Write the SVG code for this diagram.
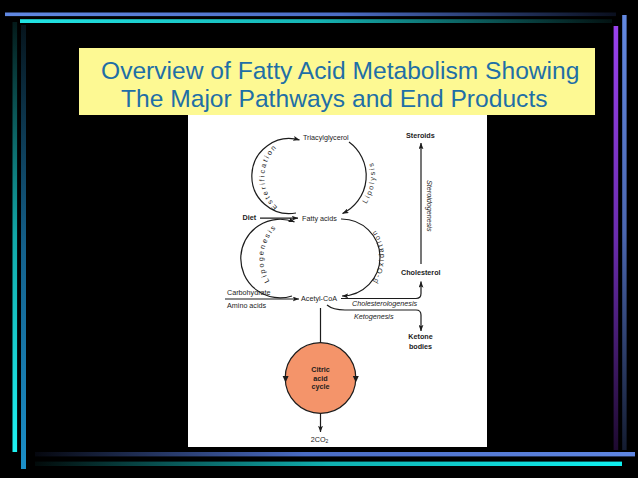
<svg xmlns="http://www.w3.org/2000/svg" width="638" height="478" viewBox="0 0 638 478">
<defs>
<linearGradient id="gTopBlue" x1="0" y1="0" x2="1" y2="0"><stop offset="0" stop-color="#6088e2"/><stop offset="0.55" stop-color="#4b6dc6"/><stop offset="1" stop-color="#0a0f1e"/></linearGradient>
<linearGradient id="gTopCyan" x1="0" y1="0" x2="1" y2="0"><stop offset="0" stop-color="#22e4e4"/><stop offset="0.5" stop-color="#16b4b4"/><stop offset="1" stop-color="#031212"/></linearGradient>
<linearGradient id="gLeftCyan" x1="0" y1="1" x2="0" y2="0"><stop offset="0" stop-color="#1ff2f2"/><stop offset="0.5" stop-color="#12a8a8"/><stop offset="1" stop-color="#041a1a"/></linearGradient>
<linearGradient id="gLeftBlue" x1="0" y1="1" x2="0" y2="0"><stop offset="0" stop-color="#1b8fc8"/><stop offset="0.5" stop-color="#14608a"/><stop offset="1" stop-color="#06141c"/></linearGradient>
<linearGradient id="gBotBlue" x1="1" y1="0" x2="0" y2="0"><stop offset="0" stop-color="#5f86e2"/><stop offset="0.55" stop-color="#4a6cc4"/><stop offset="1" stop-color="#05070e"/></linearGradient>
<linearGradient id="gBotCyan" x1="1" y1="0" x2="0" y2="0"><stop offset="0" stop-color="#10f0f0"/><stop offset="0.5" stop-color="#10b0b0"/><stop offset="1" stop-color="#020a0a"/></linearGradient>
<linearGradient id="gRightBlue" x1="0" y1="0" x2="0" y2="1"><stop offset="0" stop-color="#6389e2"/><stop offset="0.5" stop-color="#4a66b0"/><stop offset="1" stop-color="#141c30"/></linearGradient>
<linearGradient id="gRightPurple" x1="0" y1="0" x2="0" y2="1"><stop offset="0" stop-color="#9a42ee"/><stop offset="0.5" stop-color="#6a2cae"/><stop offset="1" stop-color="#1e0a30"/></linearGradient>
<marker id="ah" viewBox="0 0 8 6" refX="7.6" refY="3" markerWidth="6.5" markerHeight="5" markerUnits="userSpaceOnUse" orient="auto"><path d="M0,0 L8,3 L0,6 L1.6,3 Z" fill="#1c1c1c"/></marker>
<path id="tpEster" d="M 279.3 208.8 A 41.5 41.5 0 0 1 279.3 145.2"/>
<path id="tpLipol" d="M 363 208.2 A 50.5 50.5 0 0 0 370.8 156"/>
<path id="tpLipog" d="M 273.6 287.3 A 44 44 0 0 1 282.7 222.5"/>
<path id="tpBox" d="M 369.6 292.1 A 49 49 0 0 0 367.1 220.5"/>
</defs>
<style>
.lbl{font-family:"Liberation Sans",Arial,sans-serif;font-size:7.2px;fill:#1c1c1c}
.b{font-weight:bold}
.it{font-style:italic}
.con{fill:none;stroke:#1c1c1c;stroke-width:1.2}
.arr{marker-end:url(#ah)}
.title{font-family:"Liberation Sans",Arial,sans-serif;font-size:24.6px;fill:#1f6fa6}
.curv{font-family:"Liberation Sans",Arial,sans-serif;font-size:7.2px;fill:#1c1c1c;letter-spacing:1.9px}
</style>
<rect x="0" y="0" width="638" height="478" fill="#000"/>
<g id="frame">
<rect x="5" y="12.5" width="611" height="3.6" fill="url(#gTopBlue)"/>
<rect x="20" y="19.2" width="592" height="3.8" fill="url(#gTopCyan)"/>
<rect x="12.5" y="22" width="4.6" height="430" fill="url(#gLeftCyan)"/>
<rect x="21" y="25" width="5" height="444" fill="url(#gLeftBlue)"/>
<rect x="35" y="452" width="600" height="4.4" fill="url(#gBotBlue)"/>
<rect x="35" y="461.6" width="587" height="4.4" fill="url(#gBotCyan)"/>
<rect x="622.2" y="15" width="4.4" height="435" fill="url(#gRightBlue)"/>
<rect x="613.6" y="26" width="4.6" height="424" fill="url(#gRightPurple)"/>
</g>
<g id="title">
<rect x="79" y="48" width="516" height="67" fill="#fdf993"/>
<text class="title" x="101" y="78.5">Overview of Fatty Acid Metabolism Showing</text>
<text class="title" x="121" y="107">The Major Pathways and End Products</text>
</g>
<rect id="panel" x="188" y="115" width="299" height="332" fill="#fff"/>
<g id="connectors">
<path class="con arr" d="M 296 213 A 37.5 37.5 0 1 1 299.5 140"/>
<path class="con arr" d="M 349 142 A 41.8 41.8 0 0 1 342.5 213.5"/>
<path class="con arr" d="M 292 296 A 39.3 39.3 0 1 1 294.5 222"/>
<path class="con arr" d="M 341 219 A 38.5 38.5 0 0 1 342 296"/>
<path class="con arr" d="M 260 218.2 H 298"/>
<path class="con arr" d="M 225 299 H 299"/>
<path class="con arr" d="M 341 298.5 H 416 Q 421 298.5 421 293.5 V 281.5"/>
<path class="con arr" d="M 327 305 Q 333 310 345 310 H 416 Q 421 310 421 315 V 331"/>
<path class="con arr" d="M 421 264 V 143"/>
<path class="con" d="M 320.5 308 V 343"/>
<path class="con arr" d="M 320.5 413.5 V 432"/>
<text class="curv"><textPath href="#tpEster" startOffset="50%" text-anchor="middle">Esterification</textPath></text>
<text class="curv"><textPath href="#tpLipol" startOffset="50%" text-anchor="middle">Lipolysis</textPath></text>
<text class="curv"><textPath href="#tpLipog" startOffset="50%" text-anchor="middle">Lipogenesis</textPath></text>
<text class="curv"><textPath href="#tpBox" startOffset="50%" text-anchor="middle">β-Oxidation</textPath></text>
<text class="lbl it" x="352" y="306">Cholesterologenesis</text>
<text class="lbl it" x="354" y="319">Ketogenesis</text>
<text class="lbl it" transform="translate(426.5,180) rotate(90)">Steroidogenesis</text>
</g>
<g id="triacylglycerol"><text class="lbl" x="303" y="140">Triacylglycerol</text></g>
<g id="fatty-acids"><text class="lbl" x="302" y="221">Fatty acids</text></g>
<g id="acetyl-coa"><text class="lbl" x="301" y="300.5">Acetyl-CoA</text></g>
<g id="diet"><text class="lbl b" x="242.5" y="219.5">Diet</text></g>
<g id="carbohydrate"><text class="lbl" x="227" y="294.5">Carbohydrate</text></g>
<g id="amino-acids"><text class="lbl" x="227" y="307.5">Amino acids</text></g>
<g id="steroids"><text class="lbl b" x="406" y="138">Steroids</text></g>
<g id="cholesterol"><text class="lbl b" x="401" y="274.5">Cholesterol</text></g>
<g id="ketone-bodies"><text class="lbl b" x="420.5" y="339" text-anchor="middle">Ketone</text><text class="lbl b" x="420.5" y="348.5" text-anchor="middle">bodies</text></g>
<g id="citric-acid-cycle">
<circle cx="320.5" cy="378" r="35.3" fill="#f4946a" stroke="#1c1c1c" stroke-width="1.2"/>
<polygon points="282.6,376 288.6,376 285.6,382.5" fill="#1c1c1c"/>
<polygon points="352.8,376 358.8,376 355.8,382.5" fill="#1c1c1c"/>
<text class="lbl b" x="320.5" y="372" text-anchor="middle">Citric</text>
<text class="lbl b" x="320.5" y="380.5" text-anchor="middle">acid</text>
<text class="lbl b" x="320.5" y="389" text-anchor="middle">cycle</text>
</g>
<g id="co2"><text class="lbl" x="319.5" y="441.5" text-anchor="middle">2CO<tspan font-size="5" dy="1.5">2</tspan></text></g>
</svg>
